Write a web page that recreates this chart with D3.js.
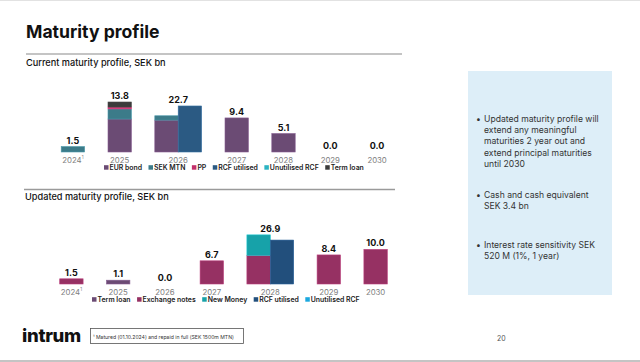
<!DOCTYPE html>
<html>
<head>
<meta charset="utf-8">
<script src="https://cdn.jsdelivr.net/npm/d3@7"></script>
<style>
  body { margin: 0; background: #fff; }
  svg { display: block; font-family: Inter, "Noto Sans", sans-serif; }
</style>
</head>
<body>
<svg id="slide" width="640" height="362"></svg>
<script>
// ---- data ----
const years = ["2024", "2025", "2026", "2027", "2028", "2029", "2030"];

// current maturity profile (SEK bn)
const curSeries = ["EUR bond", "SEK MTN", "PP", "RCF utilised", "Unutilised RCF", "Term loan"];
const curEurBond = [0, 9.1, 8.8, 9.4, 5.1, 0, 0];
const curSekMtn = [1.5, 2.8, 1.2, 0, 0, 0, 0];
const curPP = [0, 0.5, 0, 0, 0, 0, 0];
const curRcfUtilised = [0, 0, 12.7, 0, 0, 0, 0];
const curUnutilisedRcf = [0, 0, 0, 0, 0, 0, 0];
const curTermLoan = [0, 1.4, 0, 0, 0, 0, 0];
const curTotals = [1.5, 13.8, 22.7, 9.4, 5.1, 0.0, 0.0];

// updated maturity profile (SEK bn)
const updSeries = ["Term loan", "Exchange notes", "New Money", "RCF utilised", "Unutilised RCF"];
const updTermLoan = [0, 1.1, 0, 0, 0, 0, 0];
const updExchangeNotes = [1.5, 0, 0, 6.7, 8.3, 8.4, 10.0];
const updNewMoney = [0, 0, 0, 0, 5.9, 0, 0];
const updRcfUtilised = [0, 0, 0, 0, 12.7, 0, 0];
const updUnutilisedRcf = [0, 0, 0, 0, 0, 0, 0];
const updTotals = [1.5, 1.1, 0.0, 6.7, 26.9, 8.4, 10.0];

// RCF utilised is drawn as its own column next to the stack
const sideSeries = ["RCF utilised"];

const bullets = [
  ["Updated maturity profile will", "extend any meaningful", "maturities 2 year out and", "extend principal maturities", "until 2030"],
  ["Cash and cash equivalent", "SEK 3.4 bn"],
  ["Interest rate sensitivity SEK", "520 M (1%, 1 year)"]
];

const svg = d3.select("#slide");

// ---- frame ----
svg.append("line").attr("x1", 0).attr("x2", 640).attr("y1", 0.5).attr("y2", 0.5).attr("stroke", "#e2e2e2");
svg.append("line").attr("x1", 0).attr("x2", 640).attr("y1", 361).attr("y2", 361).attr("stroke", "#c4c4c4").attr("stroke-width", 2);

svg.append("text").attr("x", 26).attr("y", 38)
  .attr("font-size", 17.6).attr("font-weight", 700).attr("fill", "#111")
  .text("Maturity profile");

svg.append("line").attr("x1", 26).attr("x2", 402).attr("y1", 54).attr("y2", 54)
  .attr("stroke", "#8a8a8a").attr("stroke-width", 1.2);

svg.append("text").attr("x", 26).attr("y", 66).attr("font-size", 9.2).attr("font-weight", 500)
  .attr("fill", "#111").text("Current maturity profile, SEK bn");

svg.append("line").attr("x1", 24).attr("x2", 395).attr("y1", 189.5).attr("y2", 189.5)
  .attr("stroke", "#9a9a9a").attr("stroke-width", 1.4);

svg.append("text").attr("x", 25).attr("y", 200).attr("font-size", 9.2).attr("font-weight", 500)
  .attr("fill", "#111").text("Updated maturity profile, SEK bn");

// ---- chart helper ----
function drawChart(cfg) {
  const g = svg.append("g");
  const slots = years.map((yr, i) =>
    cfg.series.some((s, k) => sideSeries.includes(s) && cfg.values[k][i] > 0) ? 2 : 1);
  const starts = [];
  let acc = 0;
  slots.forEach((n) => { starts.push(acc); acc += n + 1; });

  const x = d3.scaleLinear().domain([0, acc]).range([cfg.x0, cfg.x0 + acc * 23.4]);
  const y = d3.scaleLinear().domain(cfg.yDomain).range([cfg.base, cfg.yTop]);
  const color = d3.scaleOrdinal().domain(cfg.series).range(cfg.colors);

  const rects = [];
  years.forEach((yr, i) => {
    let y0 = 0, side0 = 0;
    cfg.series.forEach((s, k) => {
      const v = cfg.values[k][i];
      if (!v) return;
      const isSide = sideSeries.includes(s);
      const slot = isSide ? 1 : 0;
      const lo = isSide ? side0 : y0;
      rects.push({ s, i, slot, lo, hi: lo + v });
      if (isSide) side0 += v; else y0 += v;
    });
  });

  g.selectAll("rect.bar").data(rects).join("rect")
    .attr("class", "bar")
    .attr("x", (d) => x(starts[d.i] + 0.5 + d.slot))
    .attr("width", x(1) - x(0))
    .attr("y", (d) => y(d.hi))
    .attr("height", (d) => y(d.lo) - y(d.hi))
    .attr("fill", (d) => color(d.s))
    .attr("stroke", (d) => d3.color(color(d.s)).brighter(0.6))
    .attr("stroke-width", 0.6);

  const centre = (i) => x(starts[i] + 0.5 + slots[i] / 2);
  const topOf = (i) => d3.max(rects.filter((r) => r.i === i), (r) => r.hi) || 0;

  g.selectAll("text.total").data(cfg.totals).join("text")
    .attr("class", "total")
    .attr("x", (d, i) => centre(i))
    .attr("y", (d, i) => y(topOf(i)) - 3)
    .attr("text-anchor", "middle").attr("font-size", 9).attr("font-weight", 700).attr("fill", "#111")
    .text((d) => d3.format(".1f")(d));

  const yl = g.selectAll("text.year").data(years).join("text")
    .attr("class", "year")
    .attr("x", (d, i) => centre(i))
    .attr("y", cfg.base + 10.5)
    .attr("text-anchor", "middle").attr("font-size", 7.8).attr("fill", "#808080");
  yl.append("tspan").text((d) => d);
  yl.filter((d, i) => i === 0).append("tspan").attr("font-size", 4.5).attr("dy", -3.5).text("1");

  // legend
  let lx = cfg.legendX;
  cfg.series.forEach((s) => {
    g.append("rect").attr("x", lx).attr("y", cfg.legendY - 4.8).attr("width", 4.5).attr("height", 4.5).attr("fill", color(s));
    const t = g.append("text").attr("x", lx + 5.5).attr("y", cfg.legendY)
      .attr("font-size", 6.9).attr("font-weight", 600).attr("fill", "#222").text(s);
    lx += 5.5 + t.node().getComputedTextLength() + 6.5;
  });
}

drawChart({
  series: curSeries,
  values: [curEurBond, curSekMtn, curPP, curRcfUtilised, curUnutilisedRcf, curTermLoan],
  totals: curTotals,
  colors: ["#6b4b74", "#3c7b89", "#c2306b", "#2b5a83", "#2cb3c2", "#3b3b3b"],
  x0: 49.5, base: 152, yDomain: [0, 13.8], yTop: 102,
  legendX: 104, legendY: 170
});

drawChart({
  series: updSeries,
  values: [updTermLoan, updExchangeNotes, updNewMoney, updRcfUtilised, updUnutilisedRcf],
  totals: updTotals,
  colors: ["#6b4b74", "#963163", "#17a2a9", "#224f7c", "#1ba8df"],
  x0: 48, base: 284, yDomain: [0, 10], yTop: 249.4,
  legendX: 92, legendY: 302
});

// ---- side panel ----
svg.append("rect").attr("x", 468).attr("y", 71).attr("width", 144).attr("height", 224).attr("fill", "#ddeef8");
const bulletTop = [122, 198, 248];
bullets.forEach((lines, b) => {
  svg.append("text").attr("x", 476).attr("y", bulletTop[b]).attr("font-size", 8.6).attr("fill", "#333").text("•");
  svg.append("g").selectAll("text").data(lines).join("text")
    .attr("x", 484).attr("y", (d, i) => bulletTop[b] + i * 11.2)
    .attr("font-size", 8.6).attr("fill", "#333").text((d) => d);
});

// ---- footer ----
svg.append("text").attr("x", 22).attr("y", 342).attr("font-size", 18.5).attr("font-weight", 800)
  .attr("fill", "#111").attr("letter-spacing", -0.3).text("intrum");
svg.append("rect").attr("x", 90.5).attr("y", 328.5).attr("width", 153).attr("height", 15)
  .attr("fill", "none").attr("stroke", "#555").attr("stroke-width", 0.8);
svg.append("text").attr("x", 93).attr("y", 338.5).attr("font-size", 5.1).attr("fill", "#333")
  .text("¹ Matured (01.10.2024) and repaid in full (SEK 1500m MTN)");
svg.append("text").attr("x", 497).attr("y", 341).attr("font-size", 7).attr("fill", "#555").text("20");
</script>
</body>
</html>
